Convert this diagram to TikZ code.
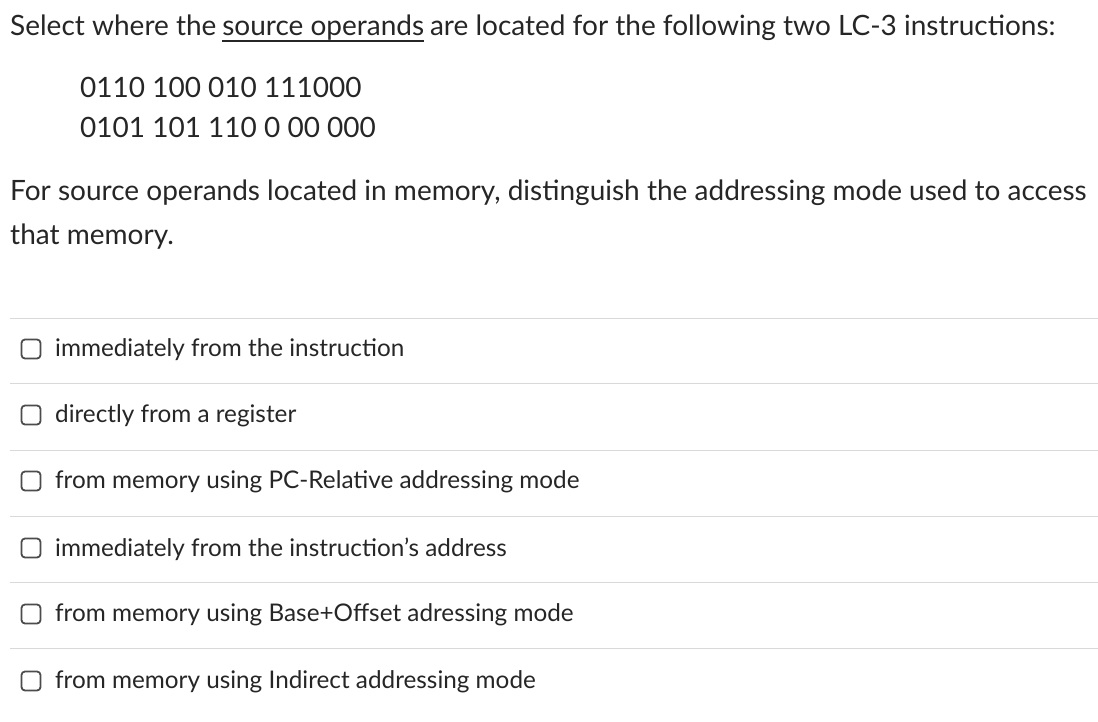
\documentclass[tikz,border=0pt]{standalone}
\usepackage{fontspec}
\setmainfont{Lato}
\begin{document}
\begin{tikzpicture}[x=1pt,y=-1pt,
  txt/.style={anchor=base west,inner sep=0pt,font=\fontsize{28}{32}\selectfont,text=black!85},
  opt/.style={anchor=base west,inner sep=0pt,font=\fontsize{24.3}{28}\selectfont,text=black!85},
  box/.style={draw=black!70,line width=1.8pt,rounded corners=3.5pt,minimum size=19pt,inner sep=0pt},
  sep/.style={draw=black!15,line width=1pt}]
\useasboundingbox (0,0) rectangle (1098,722);
\fill[white] (0,0) rectangle (1098,722);
\node[txt] (t0) at (10,36) {Select where the};
\node[txt] (t2) at ([xshift=5.4pt]t0.base east) {source operands};
\node[txt] (t3) at ([xshift=5.4pt]t2.base east) {are located for the following two LC-3 instructions:};
\draw[black!85,line width=1.2pt] ([yshift=-5pt]t2.base west) -- ([yshift=-5pt]t2.base east);
\node[txt] (c1) at (80,98) {0110 100 010 111000};
\node[txt] (c2) at (80,138) {0101 101 110 0 00 000};
\node[txt] (p1) at (10,201) {For source operands located in memory, distinguish the addressing mode used to access};
\node[txt] (p2) at (10,244) {that memory.};
\foreach \y in {318,383,450,516,582,648} \draw[sep] (10,\y) -- (1098,\y);
\foreach \y/\t [count=\i] in {349/immediately from the instruction,415/directly from a register,481/from memory using PC-Relative addressing mode,548/immediately from the instruction\symbol{39}s address,614/from memory using Base+Offset adressing mode,681/from memory using Indirect addressing mode}{
  \node[box] (b\i) at (31,\y) {};
  \node[opt,anchor=west] (o\i) at (55,\y+1) {\t};
}
\end{tikzpicture}
\end{document}
